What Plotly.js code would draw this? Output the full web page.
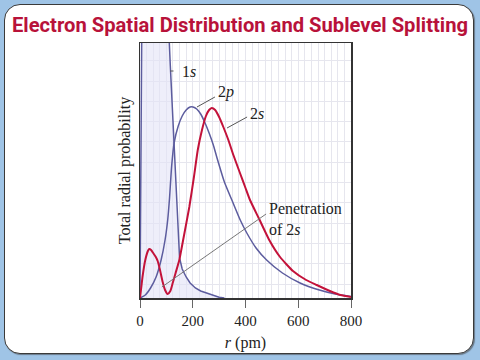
<!DOCTYPE html>
<html>
<head>
<meta charset="utf-8">
<script src="https://cdn.plot.ly/plotly-3.0.1.min.js"></script>
<style>
  html, body { margin:0; padding:0; }
  body { width:480px; height:360px; background:#9fc4e6; position:relative; overflow:hidden; }
  #frame { position:absolute; left:4px; top:4px; width:468px; height:348px; background:#ffffff;
           border:1.5px solid #3a3a3a; border-radius:16px; box-shadow: 1px 1px 1px #6a7a8a; }
  #chart { position:absolute; left:0; top:0; width:480px; height:360px; }
</style>
</head>
<body>
<div id="frame"></div>
<div id="chart"></div>
<script>
// r in pm; probability in arbitrary units (axis shows 0..255)
const r1s = [0, 3, 6, 10, 15, 25, 40, 55, 70, 85, 100, 105, 110, 115, 120, 125, 130, 135, 140, 145, 150, 160, 175, 190, 210, 230, 250, 275, 300, 320];
const p1s = [0, 130, 260, 400, 520, 680, 760, 740, 650, 500, 340, 300, 262, 232, 205, 178, 148, 115, 85, 58, 40, 29, 21, 15, 10, 7, 5, 2.5, 0.8, 0];

const r2p = [0, 20, 40, 61, 80, 95, 105, 112, 120, 130, 145, 160, 175, 190, 201, 215, 230, 245, 262, 278, 291, 320, 353, 380, 405, 440, 480, 540, 607, 680, 740, 800];
const p2p = [0, 3, 10, 21, 38, 58, 78, 100, 132, 156, 172, 182, 188, 191, 191, 189, 184, 176, 165, 153, 141, 116, 95, 78, 65, 50, 38, 25, 15, 8, 4, 1.5];

const r2s = [0, 5, 10, 20, 30, 35, 42, 50, 60, 67, 75, 86, 95, 105, 115, 124, 135, 149, 165, 187, 205, 219, 235, 250, 262, 272, 285, 300, 316, 335, 354, 379, 400, 417, 450, 490, 531, 580, 630, 670, 720, 760, 800];
const p2s = [0, 11, 22, 38, 47, 49, 48, 45, 41, 37, 29, 16, 8, 4, 7, 15, 25, 38, 60, 91, 122, 148, 168, 182, 188, 190, 188, 181, 171, 158, 143, 125, 110, 98, 80, 58, 41, 27, 18, 13, 7, 3, 1];

const xTicks = [0, 200, 400, 600, 800];

const serif = '"Liberation Serif", "DejaVu Serif", serif';
const blue = '#5c5c9e';
const red = '#c3123a';

const traces = [
  { x: r1s, y: p1s, type: 'scatter', mode: 'lines', fill: 'tozeroy',
    fillcolor: 'rgba(226,226,246,0.6)', line: { color: blue, width: 1.5 }, hoverinfo: 'skip' },
  { x: r2p, y: p2p, type: 'scatter', mode: 'lines', line: { color: blue, width: 1.5, shape: 'spline', smoothing: 0.5 }, hoverinfo: 'skip' },
  { x: r2s, y: p2s, type: 'scatter', mode: 'lines', line: { color: red, width: 2, shape: 'spline', smoothing: 0.5 }, hoverinfo: 'skip' }
];

const gridc = '#e6e6ee';
const layout = {
  width: 480, height: 360,
  paper_bgcolor: 'rgba(0,0,0,0)', plot_bgcolor: '#ffffff',
  margin: { l: 140, r: 129, t: 43, b: 62 },
  showlegend: false,
  title: { text: 'Electron Spatial Distribution and Sublevel Splitting',
           font: { family: 'Roboto, "Noto Sans", sans-serif', size: 20.2, color: '#b8123a', weight: 'bold' },
           x: 0.5, xanchor: 'center', y: 0.93, yanchor: 'middle', xref: 'container', yref: 'container' },
  xaxis: {
    range: [0, 800], tickvals: xTicks, ticktext: xTicks.map(String),
    showgrid: true, gridcolor: gridc, gridwidth: 1,
    minor: { dtick: 25, tick0: 0, showgrid: true, gridcolor: gridc, gridwidth: 1, ticks: '' },
    ticks: 'outside', ticklen: 8, tickcolor: '#666', tickwidth: 1,
    showline: true, mirror: true, linecolor: '#333', linewidth: 1.5, zeroline: false,
    tickfont: { family: serif, size: 15, color: '#222' },
    title: { text: '<i>r</i> (pm)', font: { family: serif, size: 16, color: '#222' }, standoff: 9 }
  },
  yaxis: {
    range: [0, 255], tick0: 14, dtick: 20.3, showticklabels: false, ticks: '',
    showgrid: true, gridcolor: gridc, gridwidth: 1,
    showline: true, mirror: true, linecolor: '#333', linewidth: 1.5, zeroline: false,
    title: { text: 'Total radial probability', font: { family: serif, size: 16, color: '#222' }, standoff: 4 }
  },
  shapes: [
    { type: 'line', xref: 'x', yref: 'y', x0: 114, y0: 227, x1: 127, y1: 227, line: { color: '#555', width: 1 } },
    { type: 'line', xref: 'x', yref: 'y', x0: 216, y0: 191, x1: 284, y1: 201, line: { color: '#555', width: 1 } },
    { type: 'line', xref: 'x', yref: 'y', x0: 330, y0: 170, x1: 406, y1: 181, line: { color: '#555', width: 1 } },
    { type: 'line', xref: 'x', yref: 'y', x0: 83, y0: 11, x1: 478, y1: 84, line: { color: '#777', width: 1 } }
  ],
  annotations: [
    { x: 150, y: 227, xref: 'x', yref: 'y', text: '1<i>s</i>', showarrow: false, xanchor: 'left', yanchor: 'middle',
      font: { family: serif, size: 16, color: '#222' } },
    { x: 290, y: 206, xref: 'x', yref: 'y', text: '2<i>p</i>', showarrow: false, xanchor: 'left', yanchor: 'middle',
      font: { family: serif, size: 16, color: '#222' } },
    { x: 408, y: 185, xref: 'x', yref: 'y', text: '2<i>s</i>', showarrow: false, xanchor: 'left', yanchor: 'middle',
      font: { family: serif, size: 16, color: '#222' } },
    { x: 482, y: 79, xref: 'x', yref: 'y', text: 'Penetration<br>of 2<i>s</i>', showarrow: false, xanchor: 'left', yanchor: 'middle',
      align: 'left', font: { family: serif, size: 16, color: '#222' } }
  ]
};

Plotly.newPlot('chart', traces, layout, { staticPlot: true, displayModeBar: false });
</script>
</body>
</html>
